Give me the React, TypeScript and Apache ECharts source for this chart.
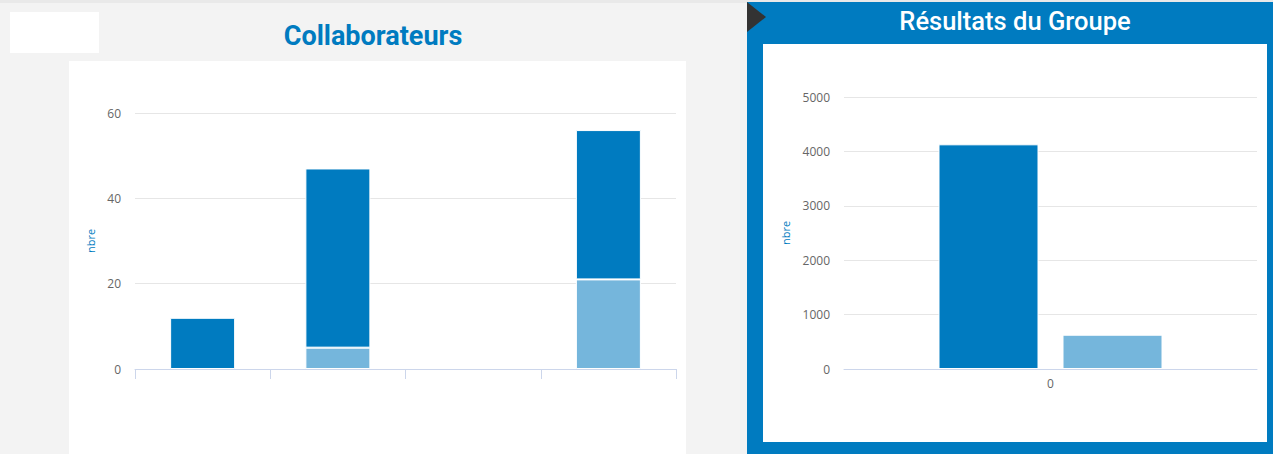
import React, { useEffect, useRef } from "react";
import * as echarts from "echarts";

const leftCategories = ["1", "2", "3", "4"];
const leftLight = [0, 5, 0, 21];
const leftDark = [12, 42, 0, 35];
const leftTicks = { min: 0, max: 60, interval: 20 };

const rightCategories = ["0"];
const rightDark = [4130];
const rightLight = [630];
const rightTicks = { min: 0, max: 5000, interval: 1000 };

const DARK = "#007bc0";
const LIGHT = "#75b6dc";
const LABEL = "#666666";
const AXIS = "#ccd6eb";
const GRIDLINE = "#e6e6e6";
const FONT = "Roboto, 'Open Sans', sans-serif";
const LFONT = "'Open Sans', sans-serif";

export default function App() {
  const ref = useRef<HTMLDivElement>(null);
  useEffect(() => {
    if (!ref.current) return;
    const chart = echarts.init(ref.current, undefined, { renderer: "svg" });
    const yAxisCommon = {
      type: "value" as const,
      nameLocation: "middle" as const,
      nameRotate: 90,
      nameTextStyle: { color: DARK, fontSize: 11, fontFamily: LFONT },
      axisLabel: { color: LABEL, fontSize: 12, fontFamily: LFONT, margin: 14, formatter: (v: number) => String(v) },
      splitLine: { lineStyle: { color: GRIDLINE, width: 1 } },
      axisLine: { show: false },
      axisTick: { show: false },
    };
    chart.setOption({
      animation: false,
      backgroundColor: "#f3f3f3",
      textStyle: { fontFamily: FONT },
      graphic: [
        { type: "rect", shape: { x: 0, y: 0, width: 1273, height: 3 }, style: { fill: "#e9e9e9" }, z: -10 },
        { type: "rect", shape: { x: 10, y: 12, width: 89, height: 41 }, style: { fill: "#ffffff" }, z: -10 },
        { type: "rect", shape: { x: 69, y: 61, width: 617, height: 393 }, style: { fill: "#ffffff" }, z: -10 },
        { type: "rect", shape: { x: 747, y: 2, width: 526, height: 452 }, style: { fill: DARK }, z: -10 },
        { type: "rect", shape: { x: 763, y: 44, width: 504, height: 398 }, style: { fill: "#ffffff" }, z: -10 },
        { type: "polygon", shape: { points: [[747, 2], [766, 17], [747, 32]] }, style: { fill: "#333333" }, z: -9 },
        {
          type: "text", x: 373, y: 36,
          style: { text: "Collaborateurs", fill: DARK, font: `bold 27px ${FONT}`, align: "center", verticalAlign: "middle" },
        },
        {
          type: "text", x: 1015, y: 21,
          style: { text: "Résultats du Groupe", fill: "#ffffff", font: `500 25.5px ${FONT}`, align: "center", verticalAlign: "middle" },
        },
      ],
      grid: [
        { left: 135, right: 597, top: 113, bottom: 85 },
        { left: 844, right: 16, top: 97, bottom: 85 },
      ],
      xAxis: [
        {
          type: "category", gridIndex: 0, data: leftCategories, z: 5,
          axisLine: { show: true, lineStyle: { color: AXIS } },
          axisTick: { show: true, length: 10, interval: 0, lineStyle: { color: AXIS } },
          axisLabel: { show: false },
        },
        {
          type: "category", gridIndex: 1, data: rightCategories, z: 5,
          axisLine: { lineStyle: { color: AXIS } },
          axisTick: { length: 10, alignWithLabel: true, lineStyle: { color: AXIS } },
          axisLabel: { color: LABEL, fontSize: 12, fontFamily: LFONT, margin: 8 },
        },
      ],
      yAxis: [
        { ...yAxisCommon, gridIndex: 0, name: "nbre", nameGap: 39, ...leftTicks },
        { ...yAxisCommon, gridIndex: 1, name: "nbre", nameGap: 53, ...rightTicks },
      ],
      series: [
        {
          type: "bar", xAxisIndex: 0, yAxisIndex: 0, stack: "c", data: leftLight, barWidth: 65,
          itemStyle: { color: LIGHT, borderColor: "#ffffff", borderWidth: 1 },
        },
        {
          type: "bar", xAxisIndex: 0, yAxisIndex: 0, stack: "c", data: leftDark, barWidth: 65,
          itemStyle: { color: DARK, borderColor: "#ffffff", borderWidth: 1 },
        },
        {
          type: "bar", xAxisIndex: 1, yAxisIndex: 1, data: rightDark, barWidth: 100, barGap: "24%",
          itemStyle: { color: DARK, borderColor: "#ffffff", borderWidth: 1 },
        },
        {
          type: "bar", xAxisIndex: 1, yAxisIndex: 1, data: rightLight, barWidth: 100, barGap: "24%",
          itemStyle: { color: LIGHT, borderColor: "#ffffff", borderWidth: 1 },
        },
      ],
    });
    return () => chart.dispose();
  }, []);
  return (
    <div
      ref={ref}
      style={{ position: "absolute", left: 0, top: 0, width: 1273, height: 454 }}
    />
  );
}
